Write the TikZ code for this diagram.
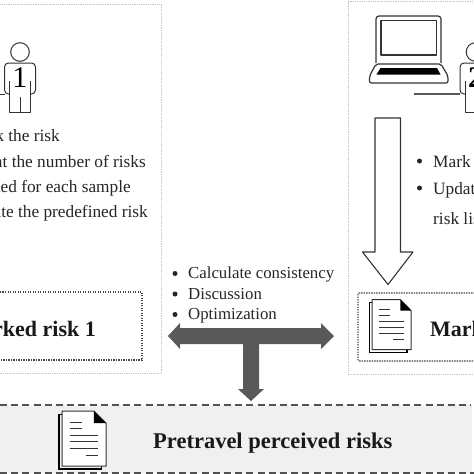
\documentclass[tikz,border=0pt]{standalone}
\usepackage{fontspec}
\setmainfont{Liberation Serif}
\definecolor{arrowgrey}{HTML}{595959}
\definecolor{bandgrey}{HTML}{F0F0F0}
\definecolor{panelgrey}{HTML}{C4C4C4}
\definecolor{inkgrey}{HTML}{333333}
\tikzset{
 x=1pt,y=-1pt,
 panel/.style={draw=panelgrey,line width=.8pt,densely dotted},
 markbox/.style={draw=inkgrey!90,line width=1.1pt,dash pattern=on 1.4pt off 1.1pt},
 ink/.style={draw=inkgrey,line width=1pt,line join=round},
 txt/.style={anchor=base west,inner sep=0pt,font=\fontsize{17.3}{21}\selectfont,text=black!85},
 txtr/.style={txt,anchor=base east},
 midtxt/.style={txt,font=\fontsize{16.8}{20}\selectfont},
 boldtxt/.style={inner sep=0pt,font=\bfseries\fontsize{22}{26}\selectfont,text=black!90},
 bigarrow/.style={fill=arrowgrey,draw=none},
 blt/.style={circle,fill=black!85,inner sep=0pt,minimum size=5pt},
}
\newcommand{\docicon}[4]{% x0 y0 xscale yscale
 \begin{scope}[shift={(#1,#2)},xscale=#3,yscale=#4]
 \draw[black,line width=1.4pt] (0,3) -- (-2.7,3) -- (-2.7,52.8) -- (36,52.8) -- (36,50);
 \filldraw[fill=white,draw=inkgrey,line width=1pt] (0,0) -- (29,0) -- (40,11) -- (40,50) -- (0,50) -- cycle;
 \fill[black] (29,0) -- (40,11) -- (29,11) -- cycle;
 \draw[inkgrey,line width=1pt] (7,10) -- (18,10) (7,16) -- (18,16)
   (7,22) -- (33,22) (7,28) -- (33,28) (7,34) -- (33,34) (22,40) -- (33,40);
 \end{scope}}
\newcommand{\persona}[3]{% centre x, digit, digit font
 \begin{scope}[shift={(#1,0)}]
 \draw[ink,fill=white] (0,52) circle (9.3);
 \draw[ink] (-10.5,81) -- (-10.5,112) -- (10.5,112) -- (10.5,81) (0,97) -- (0,112);
 \draw[ink,rounded corners=4pt] (-10.5,94) -- (-15.5,94) -- (-15.5,63) -- (15.5,63) -- (15.5,94) -- (10.5,94);
 \node[inner sep=0pt,font=#3\fontsize{30}{30}\selectfont] (digit#2) at (0,78) {#2};
 \end{scope}}
\begin{document}
\begin{tikzpicture}
\useasboundingbox (0,0) rectangle (474,474);
\clip (0,0) rectangle (474,474);
\fill[white] (0,0) rectangle (474,474);
% panels
\draw[panel] (-5,4) -- (161.5,4) -- (161.5,373) -- (-5,373);
\draw[panel] (480,1.5) -- (348,1.5) -- (348,374) -- (480,374);
% left panel
\persona{20}{1}{}
\draw[ink] (-5,94) -- (4.5,94);
\node[txtr] (l1) at (60,141) {Mark the risk};
\node[txtr] (l2) at (146,167) {Count the number of risks};
\node[txtr] (l3) at (131,192) {marked for each sample};
\node[txtr] (l4) at (148,217) {Update the predefined risk};
\draw[markbox] (-5,292) -- (142,292) -- (142,360) -- (-5,360);
\node[boldtxt,anchor=base east] (m1) at (96,336) {Marked risk 1};
% right panel: laptop
\draw[ink,line width=1.2pt,rounded corners=3pt] (376,63) -- (376,16) -- (441,16) -- (441,63);
\draw[ink,line width=1.2pt] (381,20.5) rectangle (436.5,55);
\draw[ink,line width=1.2pt,rounded corners=2pt] (376,64) -- (441,64) -- (448,76) -- (448,83) -- (369.5,83) -- (369.5,76) -- cycle;
\fill[black] (380.5,68) -- (437,68) -- (440.5,74.5) -- (376.5,74.5) -- cycle;
\persona{475.5}{2}{\bfseries}
\draw[arrowgrey,line width=1.3pt] (414,94) -- (460,94);
% white arrow
\draw[ink,fill=white,line width=1.1pt,miter limit=10] (375,118) -- (400.5,118) -- (400.5,252) -- (413,252) -- (388,284.5) -- (362.5,252) -- (375,252) -- cycle;
\node[blt] (r1) at (419.5,161) {};
\node[blt] (r2) at (419.5,188) {};
\node[txt] (t1) at (433,167) {Mark the risk};
\node[txt] (t2) at (433,194) {Update the};
\node[txt] (t3) at (433,224) {risk list};
\draw[markbox,rounded corners=1pt] (480,293) -- (358,293) -- (358,361) -- (480,361);
\docicon{372}{299.5}{.975}{1}
\node[boldtxt,anchor=base west] (m2) at (430,336) {Marked risk 2};
% middle
\node[blt] (b1) at (175,273.5) {};
\node[blt] (b2) at (175,294) {};
\node[blt] (b3) at (175,314.5) {};
\node[midtxt] (c1) at (188,278.5) {Calculate consistency};
\node[midtxt] (c2) at (188,299) {Discussion};
\node[midtxt] (c3) at (188,319.5) {Optimization};
% thick arrow
\fill[bigarrow] (168,336) -- (180,323) -- (180,328) -- (321,328) -- (321,323) -- (334,336) -- (321,349) -- (321,344) -- (259,344) -- (259,389) -- (264,389) -- (251,401) -- (238,389) -- (243,389) -- (243,344) -- (180,344) -- (180,349) -- cycle;
% band
\fill[bandgrey] (0,405) rectangle (472,473);
\draw[inkgrey!85,line width=1.1pt,dash pattern=on 7pt off 4.2pt] (0,405) -- (471,405);
\draw[inkgrey!85,line width=1.3pt,dash pattern=on 7pt off 4.2pt] (0,473) -- (474,473);
\docicon{62}{411}{1.1}{1.1}
\node[boldtxt,font=\bfseries\fontsize{22.5}{26}\selectfont,anchor=base west] (pp) at (153,448) {Pretravel perceived risks};
\end{tikzpicture}
\end{document}
